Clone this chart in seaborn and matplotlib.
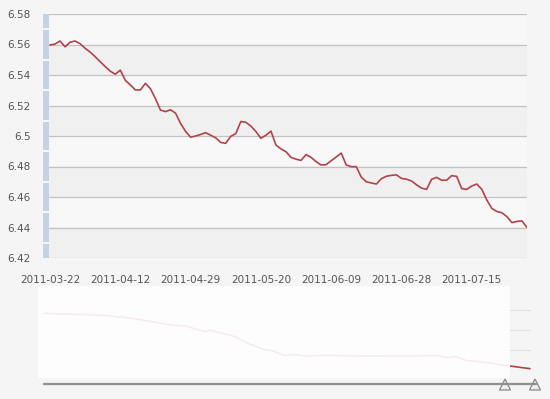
import numpy as np
import pandas as pd
import matplotlib
matplotlib.use("Agg")
import matplotlib.pyplot as plt
from matplotlib.lines import Line2D
from matplotlib.patches import Polygon
import seaborn as sns

# ---- data ----------------------------------------------------------------
# USD/CNY central parity, one value per trading day from 2011-03-22
rate = [
    6.5597, 6.5603, 6.5623, 6.5585, 6.5615, 6.5623, 6.5605, 6.5575, 6.5550, 6.5520,
    6.5487, 6.5455, 6.5425, 6.5405, 6.5432, 6.5365, 6.5335, 6.5302, 6.5302, 6.5345,
    6.5310, 6.5245, 6.5170, 6.5160, 6.5172, 6.5150, 6.5083, 6.5030, 6.4992, 6.5000,
    6.5010, 6.5022, 6.5005, 6.4988, 6.4958, 6.4952, 6.4998, 6.5015, 6.5095, 6.5090,
    6.5065, 6.5030, 6.4985, 6.5005, 6.5032, 6.4941, 6.4915, 6.4897, 6.4860, 6.4848,
    6.4840, 6.4878, 6.4860, 6.4832, 6.4810, 6.4812, 6.4838, 6.4862, 6.4888, 6.4810,
    6.4799, 6.4799, 6.4730, 6.4700, 6.4692, 6.4685, 6.4720, 6.4736, 6.4742, 6.4745,
    6.4722, 6.4717, 6.4705, 6.4680, 6.4658, 6.4650, 6.4716, 6.4729, 6.4710, 6.4710,
    6.4740, 6.4735, 6.4655, 6.4650, 6.4672, 6.4685, 6.4650, 6.4580, 6.4525, 6.4505,
    6.4497, 6.4471, 6.4432, 6.4440, 6.4443, 6.4400,
]
tick_labels = ["2011-03-22", "2011-04-12", "2011-04-29", "2011-05-20",
               "2011-06-09", "2011-06-28", "2011-07-15"]
label_step = 14
y_ticks = [6.42, 6.44, 6.46, 6.48, 6.50, 6.52, 6.54, 6.56, 6.58]
y_tick_text = ["6.42", "6.44", "6.46", "6.48", "6.5", "6.52", "6.54", "6.56", "6.58"]

# navigator: full history (decimal years)
nav_years = [2005.55, 2005.85, 2006.10, 2006.35, 2006.64, 2006.89, 2007.13, 2007.30,
             2007.55, 2007.61, 2007.92, 2008.08, 2008.29, 2008.38, 2008.54, 2008.64,
             2008.77, 2009.02, 2009.43, 2009.84, 2010.44, 2010.55, 2010.67, 2010.79,
             2010.96, 2011.17, 2011.33, 2011.58]
nav_values = [8.10, 8.08, 8.06, 8.03, 7.95, 7.85, 7.75, 7.72,
              7.55, 7.60, 7.40, 7.20, 7.00, 6.98, 6.83, 6.87,
              6.82, 6.84, 6.82, 6.82, 6.83, 6.77, 6.80, 6.68,
              6.65, 6.58, 6.52, 6.44]
nav_grid = [7.0, 7.6, 8.2]
nav_sel_start = 2011.332

# ---- style ---------------------------------------------------------------
sns.set_style("white")
plt.rcParams["font.family"] = ["DejaVu Sans"]
RED = "#b0434a"
W, H = 550, 399
fig = plt.figure(figsize=(5.5, 3.99), dpi=100, facecolor="#f5f5f5")


def box(x0, y0, x1, y1):
    return [x0 / W, 1 - y1 / H, (x1 - x0) / W, (y1 - y0) / H]


# ---- main chart ----------------------------------------------------------
ax = fig.add_axes(box(49, 14, 527, 258))
ax.set_facecolor("#f8f8f8")
for k, (lo, hi) in enumerate(zip(y_ticks[:-1], y_ticks[1:])):
    if k % 2 == 0:
        ax.axhspan(lo, hi, color="#f0f0f0", lw=0, zorder=0)

df = pd.DataFrame({"idx": np.arange(len(rate)), "rate": rate})
sns.lineplot(data=df, x="idx", y="rate", ax=ax, color=RED, lw=1.2, zorder=3)

ax.set_xlim(-0.2, len(rate) - 1)
ax.set_ylim(y_ticks[0], y_ticks[-1])
ax.set_yticks(y_ticks)
ax.set_yticklabels(y_tick_text)
ax.grid(axis="y", color="#c2c2c2", lw=0.9)
ax.grid(axis="x", visible=False)
major_pos = [i * label_step for i in range(len(tick_labels))]
ax.set_xticks(major_pos)
ax.set_xticklabels(tick_labels)
ax.set_xticks(np.arange(len(rate)), minor=True)
ax.tick_params(axis="x", which="both", length=4, width=0.8, color="#cfcfcf",
               pad=8, labelsize=7.5, labelcolor="#555555", direction="out")
ax.tick_params(axis="y", length=0, pad=13, labelsize=7.5, labelcolor="#555555")
for s in ax.spines.values():
    s.set_visible(False)
ax.set_xlabel("")
ax.set_ylabel("")

# thick blue y-axis line with white minor marks
bar = fig.add_axes(box(43, 14, 49, 258))
bar.set_facecolor("#c3d3e2")
bar.set_ylim(y_ticks[0], y_ticks[-1])
for lo, hi in zip(y_ticks[:-1], y_ticks[1:]):
    bar.axhline((lo + hi) / 2, color="white", lw=1.2)
bar.set_xticks([])
bar.set_yticks([])
for s in bar.spines.values():
    s.set_visible(False)

# ---- navigator -----------------------------------------------------------
nav = fig.add_axes(box(38, 286, 540, 378))
nav.patch.set_alpha(0)
nav.set_xlim(2005.476, 2011.704)
nav.set_ylim(6.16, 8.92)
for g in nav_grid:
    nav.axhline(g, xmax=0.98, color="#e2e2e2", lw=0.8, zorder=1)
nav_df = pd.DataFrame({"year": nav_years, "value": nav_values})
sns.lineplot(data=nav_df, x="year", y="value", ax=nav, color=RED, lw=1.2, zorder=3)
nav.axvspan(2005.476, nav_sel_start, color="white", alpha=0.9, lw=0, zorder=5)
nav.set_xticks([])
nav.set_yticks([])
nav.set_xlabel("")
nav.set_ylabel("")
for s in nav.spines.values():
    s.set_visible(False)

# scrollbar and handles
fig.add_artist(Line2D([44 / W, 536 / W], [1 - 383.5 / H] * 2,
                      color="#8f8f8f", lw=1.6, transform=fig.transFigure))
for hx in (505, 535):
    pts = [((hx - 5.5) / W, 1 - 390 / H), ((hx + 5.5) / W, 1 - 390 / H),
           (hx / W, 1 - 379 / H)]
    fig.add_artist(Polygon(pts, closed=True, facecolor="#eeeeee",
                           edgecolor="#8a8a8a", lw=0.9, transform=fig.transFigure))

fig.savefig("out.png", dpi=100, facecolor=fig.get_facecolor())
